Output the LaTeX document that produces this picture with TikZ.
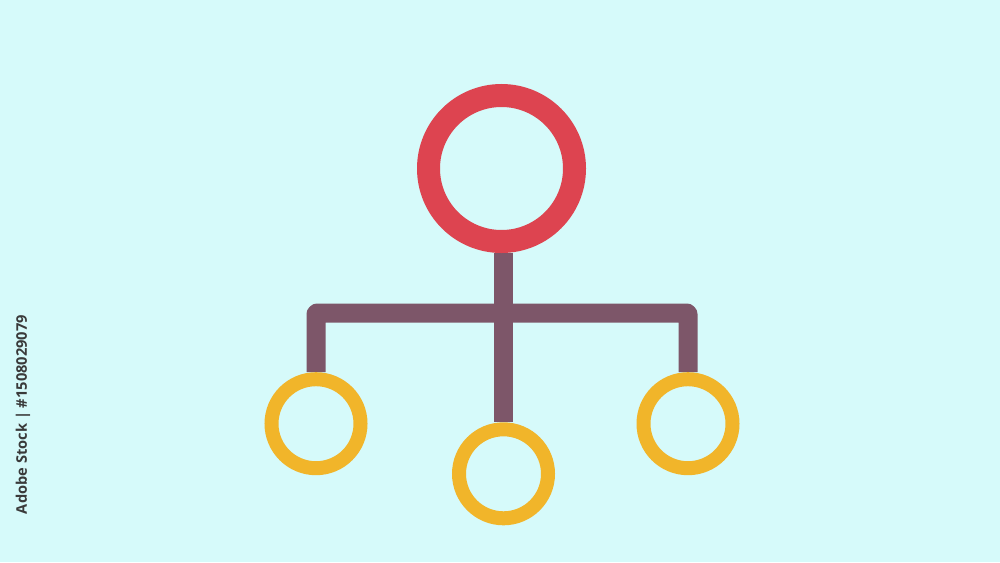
\documentclass[tikz,border=0pt]{standalone}
\usepackage{fontspec}
\setmainfont{Open Sans}
\usetikzlibrary{backgrounds}
\definecolor{bgcyan}{HTML}{D6FAFA}
\definecolor{ringred}{HTML}{DD4450}
\definecolor{linkpurple}{HTML}{7D5669}
\definecolor{ringyellow}{HTML}{F1B52A}
\definecolor{marktext}{HTML}{3A3A3A}
\tikzset{
  topring/.style={circle, draw=ringred, line width=23pt, inner sep=0pt, minimum size=146pt},
  childring/.style={circle, draw=ringyellow, line width=14pt, inner sep=0pt, minimum size=89pt},
  link/.style={draw=linkpurple, line width=19pt, line cap=butt, line join=round, rounded corners=1pt},
  stocklabel/.style={rotate=90, text=marktext, inner sep=0pt, font=\bfseries}
}
\begin{document}
\begin{tikzpicture}[x=1pt, y=-1pt]
\useasboundingbox (0,0) rectangle (1000,562);
\node[topring] (top) at (501.5,168.5) {};
\node[childring] (left) at (316,423.7) {};
\node[childring] (mid) at (503.5,473.8) {};
\node[childring] (right) at (688,423.7) {};
\coordinate (bar) at (503.5,313);
\begin{scope}[on background layer]
  \fill[bgcyan] (0,0) rectangle (1000,562);
  \draw[link] (mid.north |- top.south) -- (mid.north);
  \draw[link] (left.north) |- (bar) -| (right.north);
\end{scope}
\node[stocklabel] (mark) at (23,414.5) {\resizebox{199pt}{!}{Adobe Stock | \#1508029079}};
\end{tikzpicture}
\end{document}
